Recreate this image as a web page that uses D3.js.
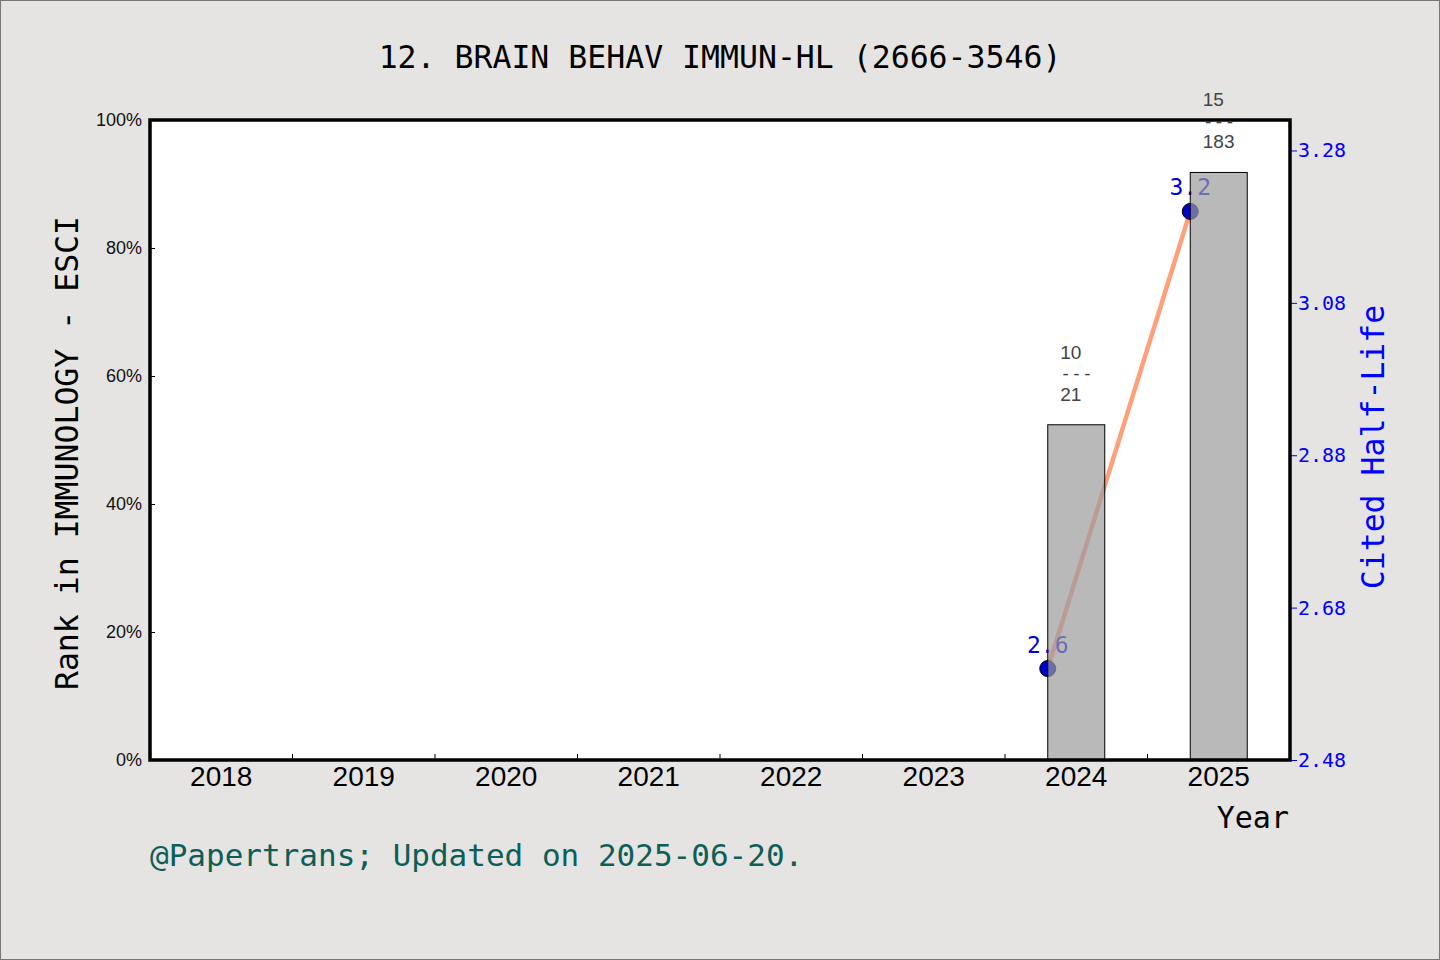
<!DOCTYPE html>
<html>
<head>
<meta charset="utf-8">
<script src="https://cdn.jsdelivr.net/npm/d3@7"></script>
<style>
  body { margin: 0; background: #e5e4e2; }
  svg { display: block; }
</style>
</head>
<body>
<svg id="chart" width="1440" height="960"></svg>
<script>
// chart data
const years = ["2018", "2019", "2020", "2021", "2022", "2023", "2024", "2025"];
const rankNum = [null, null, null, null, null, null, 10, 15];
const rankTotal = [null, null, null, null, null, null, 21, 183];
const halfLife = [null, null, null, null, null, null, 2.6, 3.2];
const pctTicks = [0, 0.2, 0.4, 0.6, 0.8, 1.0];
const hlTicks = [2.48, 2.68, 2.88, 3.08, 3.28];

const mono = "'DejaVu Sans Mono', 'Liberation Mono', monospace";
const narrow = "'Liberation Sans Narrow', 'Liberation Sans', sans-serif";

const svg = d3.select("#chart");
const L = 150, R = 1290, T = 120, B = 760;

svg.append("rect").attr("x", 0.5).attr("y", 0.5).attr("width", 1439).attr("height", 959)
  .attr("fill", "#e5e4e2").attr("stroke", "#777").attr("stroke-width", 1);

const x = d3.scaleBand().domain(years).range([L, R]);
const y = d3.scaleLinear().domain([0, 1]).range([B, T]);
const y2 = d3.scaleLinear().domain([2.48, 3.32]).range([B, T]);
const barW = x.bandwidth() * 0.4;

// plot background
svg.append("rect").attr("x", L).attr("y", T).attr("width", R - L).attr("height", B - T).attr("fill", "#fff");

// left axis
const gl = svg.append("g").attr("transform", `translate(${L},0)`)
  .call(d3.axisLeft(y).tickValues(pctTicks).tickSize(-5).tickPadding(8).tickFormat(d3.format(".0%")));
gl.select(".domain").remove();
gl.selectAll("line").attr("stroke", "#000");
gl.selectAll("text").attr("font-family", "'Liberation Sans', sans-serif").attr("font-size", 18).attr("fill", "#111");

// bottom axis: labels at centres, minor ticks at band edges
const gb = svg.append("g").attr("transform", `translate(0,${B})`)
  .call(d3.axisBottom(x).tickSize(0).tickPadding(6));
gb.select(".domain").remove();
gb.selectAll("text").attr("font-family", narrow).attr("font-size", 28).attr("fill", "#000");
svg.append("g").selectAll("line").data(years.slice(1)).join("line")
  .attr("x1", d => x(d)).attr("x2", d => x(d)).attr("y1", B).attr("y2", B - 6)
  .attr("stroke", "#000").attr("stroke-width", 1);

// right axis
const gr = svg.append("g").attr("transform", `translate(${R},0)`)
  .call(d3.axisRight(y2).tickValues(hlTicks).tickSize(7).tickPadding(1).tickFormat(d3.format(".2f")));
gr.select(".domain").remove();
gr.selectAll("line").attr("stroke", "#00f");
gr.selectAll("text").attr("font-family", mono).attr("font-size", 20).attr("fill", "#00f");

// half-life line + points
const hl = years.map((yr, i) => ({ yr, v: halfLife[i] })).filter(d => d.v != null);
const px = d => x(d.yr) + x.bandwidth() / 2 - barW / 2;
svg.append("path").datum(hl)
  .attr("d", d3.line().x(px).y(d => y2(d.v)))
  .attr("fill", "none").attr("stroke", "#ffa07a").attr("stroke-width", 4.5);
svg.append("g").selectAll("circle").data(hl).join("circle")
  .attr("cx", px).attr("cy", d => y2(d.v)).attr("r", 8)
  .attr("fill", "#0000cd").attr("stroke", "#000").attr("stroke-width", 1);
svg.append("g").selectAll("text").data(hl).join("text")
  .attr("x", px).attr("y", d => y2(d.v) - 16).attr("text-anchor", "middle")
  .attr("font-family", mono).attr("font-size", 23).attr("fill", "#0000dd")
  .text(d => d.v.toFixed(1));

// rank bars (translucent, over line)
const ranks = years.map((yr, i) => ({ yr, n: rankNum[i], t: rankTotal[i] })).filter(d => d.n != null);
svg.append("g").selectAll("rect").data(ranks).join("rect")
  .attr("x", d => x(d.yr) + x.bandwidth() / 2 - barW / 2)
  .attr("y", d => y(1 - d.n / d.t)).attr("width", barW)
  .attr("height", d => B - y(1 - d.n / d.t))
  .attr("fill", "#9b9b9c").attr("fill-opacity", 0.7)
  .attr("stroke", "#000").attr("stroke-width", 1);

// rank fraction labels
const ann = svg.append("g").attr("font-family", "'Liberation Sans', sans-serif").attr("font-size", 19)
  .attr("fill", "#444");
ranks.forEach(d => {
  const lx = x(d.yr) + x.bandwidth() / 2 - 16, top = y(1 - d.n / d.t);
  ann.append("text").attr("x", lx).attr("y", top - 66).text(d.n);
  ann.append("text").attr("x", lx).attr("y", top - 45.5).attr("font-family", mono).attr("font-size", 18).text("---");
  ann.append("text").attr("x", lx).attr("y", top - 24).text(d.t);
});

// frame
svg.append("rect").attr("x", L).attr("y", T).attr("width", R - L).attr("height", B - T)
  .attr("fill", "none").attr("stroke", "#000").attr("stroke-width", 3.5);

// titles
svg.append("text").attr("x", 720).attr("y", 68).attr("text-anchor", "middle")
  .attr("font-family", mono).attr("font-size", 31.5).attr("fill", "#000")
  .text("12. BRAIN BEHAV IMMUN-HL (2666-3546)");
svg.append("text").attr("transform", "translate(78,453) rotate(-90)").attr("text-anchor", "middle")
  .attr("font-family", mono).attr("font-size", 31.5).attr("fill", "#000")
  .text("Rank in IMMUNOLOGY - ESCI");
svg.append("text").attr("transform", "translate(1384,447) rotate(-90)").attr("text-anchor", "middle")
  .attr("font-family", mono).attr("font-size", 31.5).attr("fill", "#0000ff")
  .text("Cited Half-Life");
svg.append("text").attr("x", 1289).attr("y", 828).attr("text-anchor", "end")
  .attr("font-family", mono).attr("font-size", 30).attr("fill", "#000").text("Year");
svg.append("text").attr("x", 150).attr("y", 866)
  .attr("font-family", mono).attr("font-size", 31).attr("fill", "#0e5e58")
  .text("@Papertrans; Updated on 2025-06-20.");
</script>
</body>
</html>
